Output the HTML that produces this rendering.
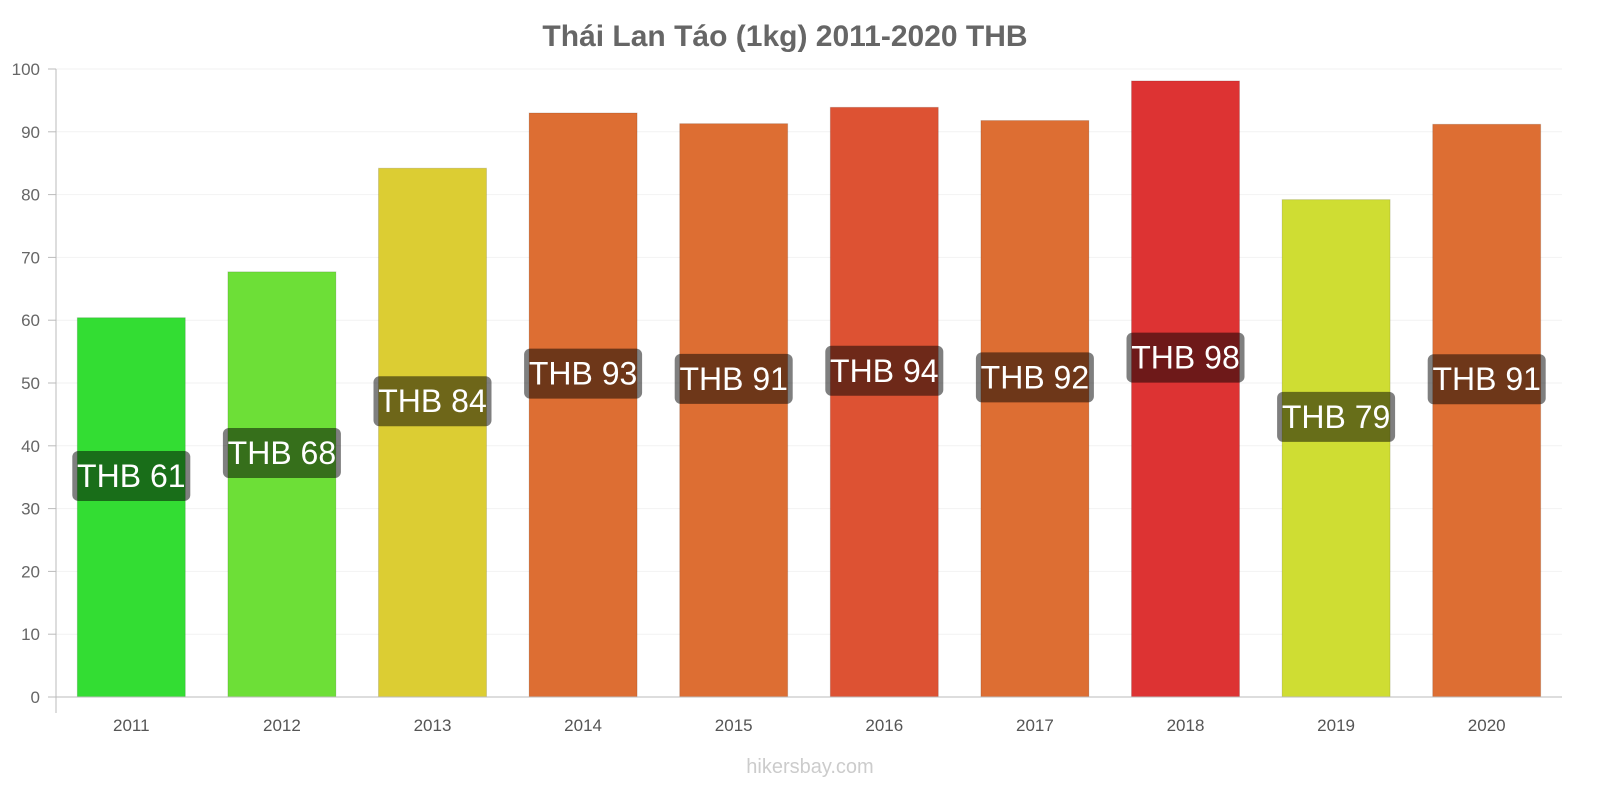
<!DOCTYPE html>
<html><head><meta charset="utf-8"><style>
body{margin:0;background:#fff;}
svg{display:block;font-family:"Liberation Sans",sans-serif;}
</style></head><body>
<svg id="c" width="1600" height="800">
<text x="785" y="46" text-anchor="middle" font-size="30" font-weight="bold" fill="#666">Thái Lan Táo (1kg) 2011-2020 THB</text>
<text x="810" y="773" text-anchor="middle" font-size="20" fill="#ccc">hikersbay.com</text>
<g id="grid"></g><g id="bars"></g><g id="axes"></g><g id="labels"></g>
</svg>
<script>
const categories=["2011","2012","2013","2014","2015","2016","2017","2018","2019","2020"];
const values=[60.4,67.7,84.2,93.0,91.3,93.9,91.8,98.1,79.2,91.2];
const labels=["THB 61","THB 68","THB 84","THB 93","THB 91","THB 94","THB 92","THB 98","THB 79","THB 91"];
const colors=["#33dd33","#6ddf37","#dccd33","#dd6e33","#dd6e33","#dd5233","#dd6e33","#dd3333","#cfdd33","#dd6e33"];
const yTicks=[0,10,20,30,40,50,60,70,80,90,100];
const NS="http://www.w3.org/2000/svg";
const x0=56,x1=1562,y0=697,yTop=69;
const y=v=>y0-(v/100)*(y0-yTop);
const bw=(x1-x0)/categories.length;
const xc=i=>x0+bw*(i+0.5);
function mk(t,a,p){const e=document.createElementNS(NS,t);for(const k in a)e.setAttribute(k,a[k]);p.appendChild(e);return e;}
const G=document.getElementById('grid'),B=document.getElementById('bars'),A=document.getElementById('axes'),L=document.getElementById('labels');
yTicks.forEach(t=>{
 const l=mk('line',{x1:x0,x2:x1,y1:y(t),y2:y(t),stroke:'#f2f2f2'},G);
 
 
 const tl=mk('text',{x:40,y:y(t)+6,'text-anchor':'end','font-size':17,fill:'#666'},A);
 tl.textContent=t;
 
 
 mk('line',{x1:48,x2:56,y1:y(t),y2:y(t),stroke:'#bbb'},A);
});
mk('line',{x1:56,x2:56,y1:69,y2:713,stroke:'#bbb'},A);
mk('line',{x1:48,x2:x1,y1:y0,y2:y0,stroke:'#bbb'},A);
categories.forEach((c,i)=>{
 const r=mk('rect',{x:xc(i)-54,y:y(values[i]),width:108,height:y0-y(values[i]),fill:colors[i],stroke:'rgba(0,0,0,0.12)'},B);
 
 
 const xt=mk('text',{x:xc(i),y:731,'text-anchor':'middle','font-size':17,fill:'#555'},A);
 xt.textContent=c;
 
 
 const cy=y(values[i]/2+5);
 const bg=mk('rect',{x:xc(i)-59,y:cy-25,width:118,height:50,rx:6,fill:'rgba(0,0,0,0.5)'},L);
 
 
 const t=mk('text',{x:xc(i),y:cy+11,'text-anchor':'middle','font-size':32,fill:'#fff'},L);
 t.textContent=labels[i];
 
 
});
</script>
</body></html>
